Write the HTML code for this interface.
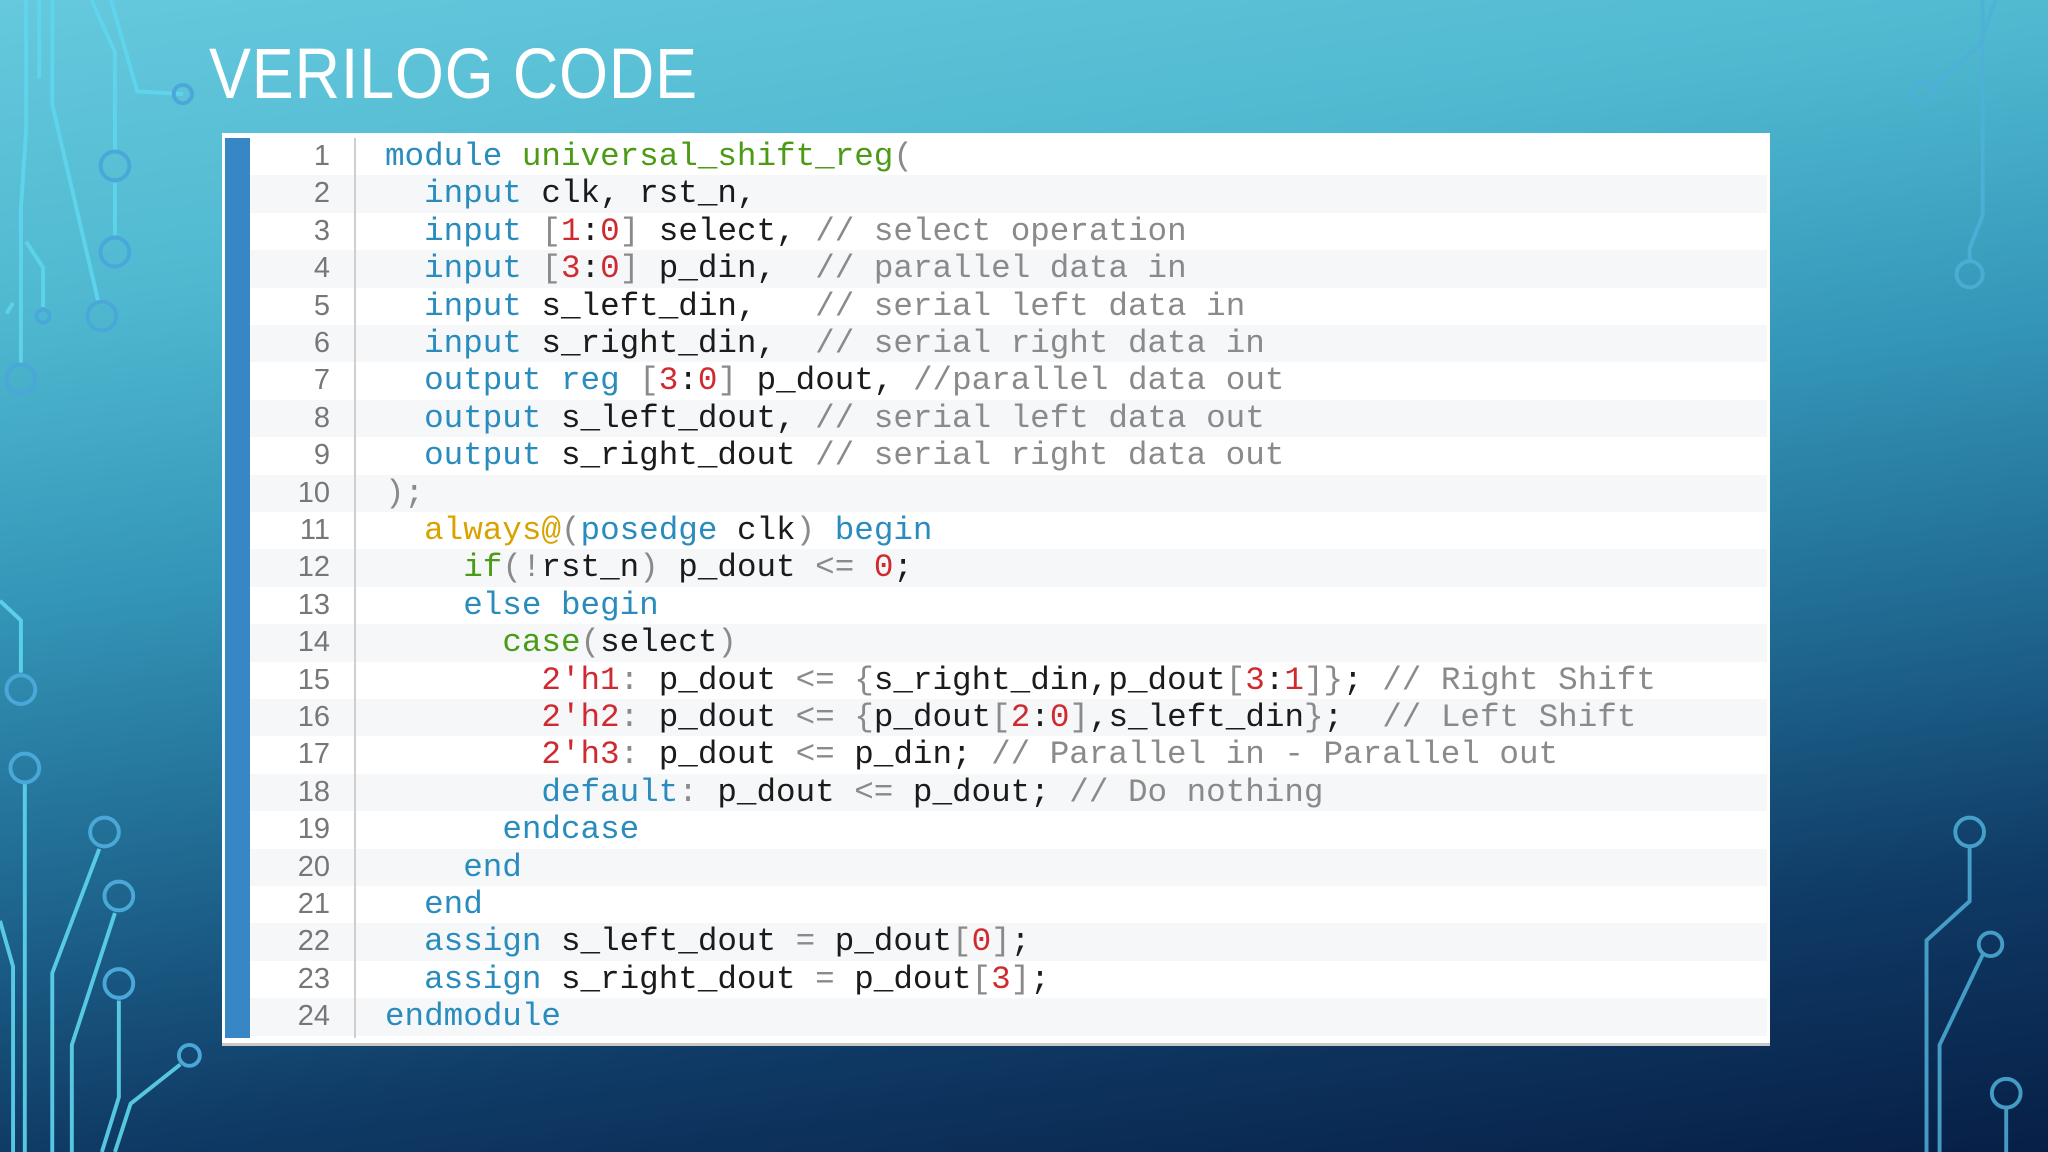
<!DOCTYPE html>
<html><head><meta charset="utf-8"><style>
html,body{margin:0;padding:0;}
body{width:2048px;height:1152px;overflow:hidden;position:relative;
background:linear-gradient(172deg,#66c9dd 0%,#4fb8d0 22%,#3496b8 42%,#1f6890 62%,#0f3b66 80%,#071f46 100%);}
svg.deco{position:absolute;left:0;top:0;}
.title{position:absolute;left:209px;top:39px;font-family:"Liberation Sans",sans-serif;font-size:71px;color:#fff;white-space:nowrap;transform-origin:0 0;transform:scaleX(0.885);letter-spacing:1px;line-height:71px;}
.panel{position:absolute;left:222px;top:133px;width:1548px;height:910px;background:#fff;box-shadow:0 3px 0 #c8c8c8;}
.bar{position:absolute;left:3px;top:5px;width:25px;height:900px;background:#3786c6;}
.div{position:absolute;left:132px;top:5px;width:2px;height:900px;background:#cfcfcf;}
.row{position:absolute;left:28px;width:1517px;height:37.4px;}
.row.alt{background:#f5f7f9;}
.num{position:absolute;left:0;width:80px;text-align:right;font-family:"Liberation Sans",sans-serif;font-size:29px;color:#777;line-height:37.4px;}
.code{position:absolute;left:135px;white-space:pre;font-family:"Liberation Mono",monospace;font-size:32.6px;line-height:37.4px;color:#1b1b1b;}
.k{color:#2a8cbd}.g{color:#4c9b17}.o{color:#daa200}.r{color:#cf2a2f}.c{color:#8a8a8a}.p{color:#8a8a8a}
</style></head><body>
<svg class="deco" width="2048" height="1152" viewBox="0 0 1568 882" fill="none" stroke-width="3">
<g stroke="#5fd6ee" opacity="0.9">
<path d="M20 0V100L16 160V280"/><path d="M30 0V60"/><path d="M40 0V80L75 230"/>
<path d="M70 0L88 40V115"/><path d="M85 0L105 70L140 72"/>
<path d="M88 140V180"/><path d="M20 185L33 205V235"/><path d="M5 240L10 232"/>
<path d="M0 460L16 475V515"/>
<path d="M19 600V882"/><path d="M40 882V745L76 650"/><path d="M55 882V800L88 699"/>
<path d="M91 766V840L78 882"/><path d="M138 815L100 845L88 882"/><path d="M0 705L10 740V882"/>
</g>
<g stroke="#4aa8d8">
<circle cx="140" cy="72" r="7"/><circle cx="88" cy="127" r="11"/><circle cx="88" cy="193" r="11"/>
<circle cx="78" cy="242" r="11"/><circle cx="33" cy="242" r="5"/><circle cx="16" cy="290" r="11"/>
<circle cx="16" cy="528" r="11"/><circle cx="19" cy="588" r="11"/><circle cx="80" cy="637" r="11"/>
<circle cx="91" cy="686" r="11"/><circle cx="91" cy="753" r="11"/><circle cx="145" cy="808" r="8"/>
</g>
<g stroke="#4fb0d8" opacity="0.85">
<path d="M1480 66L1515 35L1528 0"/><path d="M1518 0V165L1508 190V200"/>
<path d="M1508 648V690L1475 720V882"/><path d="M1518 731L1485 800V882"/><path d="M1536 848V882"/>
<circle cx="1472" cy="70" r="8"/><circle cx="1508" cy="210" r="10"/>
<circle cx="1508" cy="637" r="11"/><circle cx="1524" cy="723" r="9"/><circle cx="1536" cy="837" r="11"/>
</g>
</svg>
<div class="title">VERILOG CODE</div>
<div class="panel">
<div class="row" style="top:5px"><div class="num">1</div><div class="code"><span class="k">module</span> <span class="g">universal_shift_reg</span><span class="p">(</span></div></div>
<div class="row alt" style="top:42.4px"><div class="num">2</div><div class="code">  <span class="k">input</span> clk, rst_n,</div></div>
<div class="row" style="top:79.8px"><div class="num">3</div><div class="code">  <span class="k">input</span> <span class="p">[</span><span class="r">1</span>:<span class="r">0</span><span class="p">]</span> select, <span class="c">// select operation</span></div></div>
<div class="row alt" style="top:117.2px"><div class="num">4</div><div class="code">  <span class="k">input</span> <span class="p">[</span><span class="r">3</span>:<span class="r">0</span><span class="p">]</span> p_din,  <span class="c">// parallel data in</span></div></div>
<div class="row" style="top:154.6px"><div class="num">5</div><div class="code">  <span class="k">input</span> s_left_din,   <span class="c">// serial left data in</span></div></div>
<div class="row alt" style="top:192px"><div class="num">6</div><div class="code">  <span class="k">input</span> s_right_din,  <span class="c">// serial right data in</span></div></div>
<div class="row" style="top:229.4px"><div class="num">7</div><div class="code">  <span class="k">output</span> <span class="k">reg</span> <span class="p">[</span><span class="r">3</span>:<span class="r">0</span><span class="p">]</span> p_dout, <span class="c">//parallel data out</span></div></div>
<div class="row alt" style="top:266.8px"><div class="num">8</div><div class="code">  <span class="k">output</span> s_left_dout, <span class="c">// serial left data out</span></div></div>
<div class="row" style="top:304.2px"><div class="num">9</div><div class="code">  <span class="k">output</span> s_right_dout <span class="c">// serial right data out</span></div></div>
<div class="row alt" style="top:341.6px"><div class="num">10</div><div class="code"><span class="p">);</span></div></div>
<div class="row" style="top:379px"><div class="num">11</div><div class="code">  <span class="o">always@</span><span class="p">(</span><span class="k">posedge</span> clk<span class="p">)</span> <span class="k">begin</span></div></div>
<div class="row alt" style="top:416.4px"><div class="num">12</div><div class="code">    <span class="g">if</span><span class="p">(!</span>rst_n<span class="p">)</span> p_dout <span class="p">&lt;=</span> <span class="r">0</span>;</div></div>
<div class="row" style="top:453.8px"><div class="num">13</div><div class="code">    <span class="k">else</span> <span class="k">begin</span></div></div>
<div class="row alt" style="top:491.2px"><div class="num">14</div><div class="code">      <span class="g">case</span><span class="p">(</span>select<span class="p">)</span></div></div>
<div class="row" style="top:528.6px"><div class="num">15</div><div class="code">        <span class="r">2'h1</span><span class="p">:</span> p_dout <span class="p">&lt;=</span> <span class="p">{</span>s_right_din,p_dout<span class="p">[</span><span class="r">3</span>:<span class="r">1</span><span class="p">]}</span>; <span class="c">// Right Shift</span></div></div>
<div class="row alt" style="top:566px"><div class="num">16</div><div class="code">        <span class="r">2'h2</span><span class="p">:</span> p_dout <span class="p">&lt;=</span> <span class="p">{</span>p_dout<span class="p">[</span><span class="r">2</span>:<span class="r">0</span><span class="p">]</span>,s_left_din<span class="p">}</span>;  <span class="c">// Left Shift</span></div></div>
<div class="row" style="top:603.4px"><div class="num">17</div><div class="code">        <span class="r">2'h3</span><span class="p">:</span> p_dout <span class="p">&lt;=</span> p_din; <span class="c">// Parallel in - Parallel out</span></div></div>
<div class="row alt" style="top:640.8px"><div class="num">18</div><div class="code">        <span class="k">default</span><span class="p">:</span> p_dout <span class="p">&lt;=</span> p_dout; <span class="c">// Do nothing</span></div></div>
<div class="row" style="top:678.2px"><div class="num">19</div><div class="code">      <span class="k">endcase</span></div></div>
<div class="row alt" style="top:715.6px"><div class="num">20</div><div class="code">    <span class="k">end</span></div></div>
<div class="row" style="top:753px"><div class="num">21</div><div class="code">  <span class="k">end</span></div></div>
<div class="row alt" style="top:790.4px"><div class="num">22</div><div class="code">  <span class="k">assign</span> s_left_dout <span class="p">=</span> p_dout<span class="p">[</span><span class="r">0</span><span class="p">]</span>;</div></div>
<div class="row" style="top:827.8px"><div class="num">23</div><div class="code">  <span class="k">assign</span> s_right_dout <span class="p">=</span> p_dout<span class="p">[</span><span class="r">3</span><span class="p">]</span>;</div></div>
<div class="row alt" style="top:865.2px"><div class="num">24</div><div class="code"><span class="k">endmodule</span></div></div>
<div class="bar"></div>
<div class="div"></div>
</div>
</body></html>
